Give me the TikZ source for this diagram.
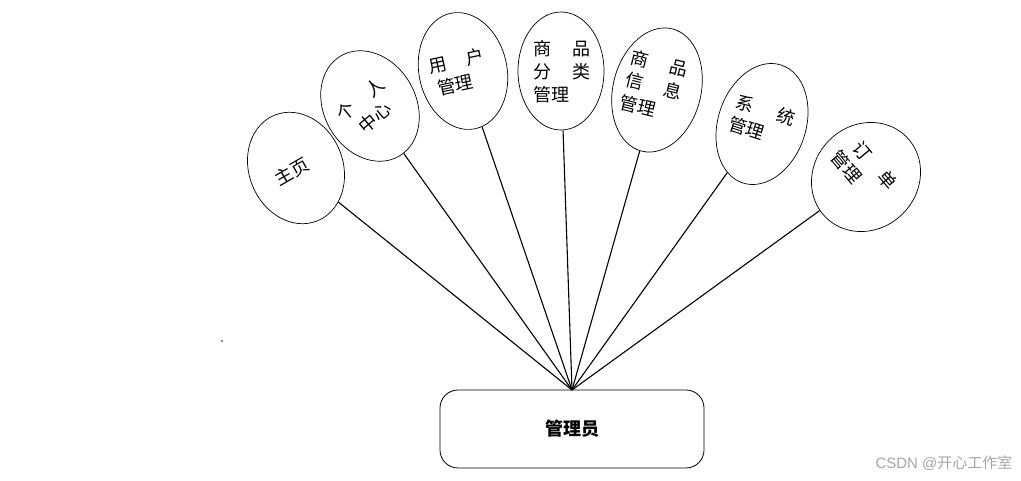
\documentclass[tikz,border=0pt]{standalone}
\usepackage{fontspec}
\setmainfont{Liberation Sans}
\newfontfamily\cjk{Noto Sans CJK SC}
\usetikzlibrary{shapes.geometric}
\begin{document}
\begin{tikzpicture}[x=1pt,y=-1pt,
  bub/.style={draw,ellipse,inner sep=0pt,line width=0.7pt},
  lab/.style={font=\cjk\fontsize{18}{23}\selectfont,align=left,inner sep=0pt},
  link/.style={line width=1.1pt}]
\useasboundingbox (0,0) rectangle (1021,481);
\node[bub,minimum width=94,minimum height=114,rotate=22] (a) at (296,168) {};
\node[lab,rotate=30] (ta) at (292,172) {主页};
\node[bub,minimum width=92,minimum height=116,rotate=30] (b) at (370,106) {};
\node[lab,rotate=40] (tb) at (368,108) {个\hspace{1.1em}人\\\hspace{0.5em}中心};
\node[bub,minimum width=88,minimum height=118,rotate=12] (c) at (463,71) {};
\node[lab,rotate=12] (tc) at (459,72) {用\hspace{1.1em}户\\\hspace{0.2em}管理};
\node[bub,minimum width=86,minimum height=118] (d) at (561,71) {};
\node[lab] (td) at (562,72) {商\hspace{1.2em}品\\分\hspace{1.2em}类\\管理};
\node[bub,minimum width=88,minimum height=126,rotate=-14] (e) at (657,90) {};
\node[lab,rotate=-14] (te) at (654,86) {商\hspace{1.2em}品\\信\hspace{1.2em}息\\管理};
\node[bub,minimum width=88,minimum height=124,rotate=-18] (f) at (762,124) {};
\node[lab,rotate=-18] (tf) at (762,121) {系\hspace{1.4em}统\\管理};
\node[bub,minimum width=104,minimum height=114,rotate=-45] (g) at (866,177) {};
\node[lab,rotate=-50] (tg) at (864,170) {\hspace{0.4em}订\hspace{1.1em}单\\管理};
\node[draw,rounded corners=18pt,line width=0.8pt,minimum width=264,minimum height=78,font=\cjk\bfseries\fontsize{18}{21}\selectfont] (m) at (572,429) {管理员};
\coordinate (p) at (572,390);
\foreach \n in {a,b,c,d,e,f,g} \draw[link] (\n) -- (p);
\fill (222,341) circle (0.8);
\node[text=black!35,font=\fontsize{15}{18}\selectfont,anchor=east] (w) at (1016,463) {CSDN @{\cjk 开心工作室}};
\end{tikzpicture}
\end{document}
